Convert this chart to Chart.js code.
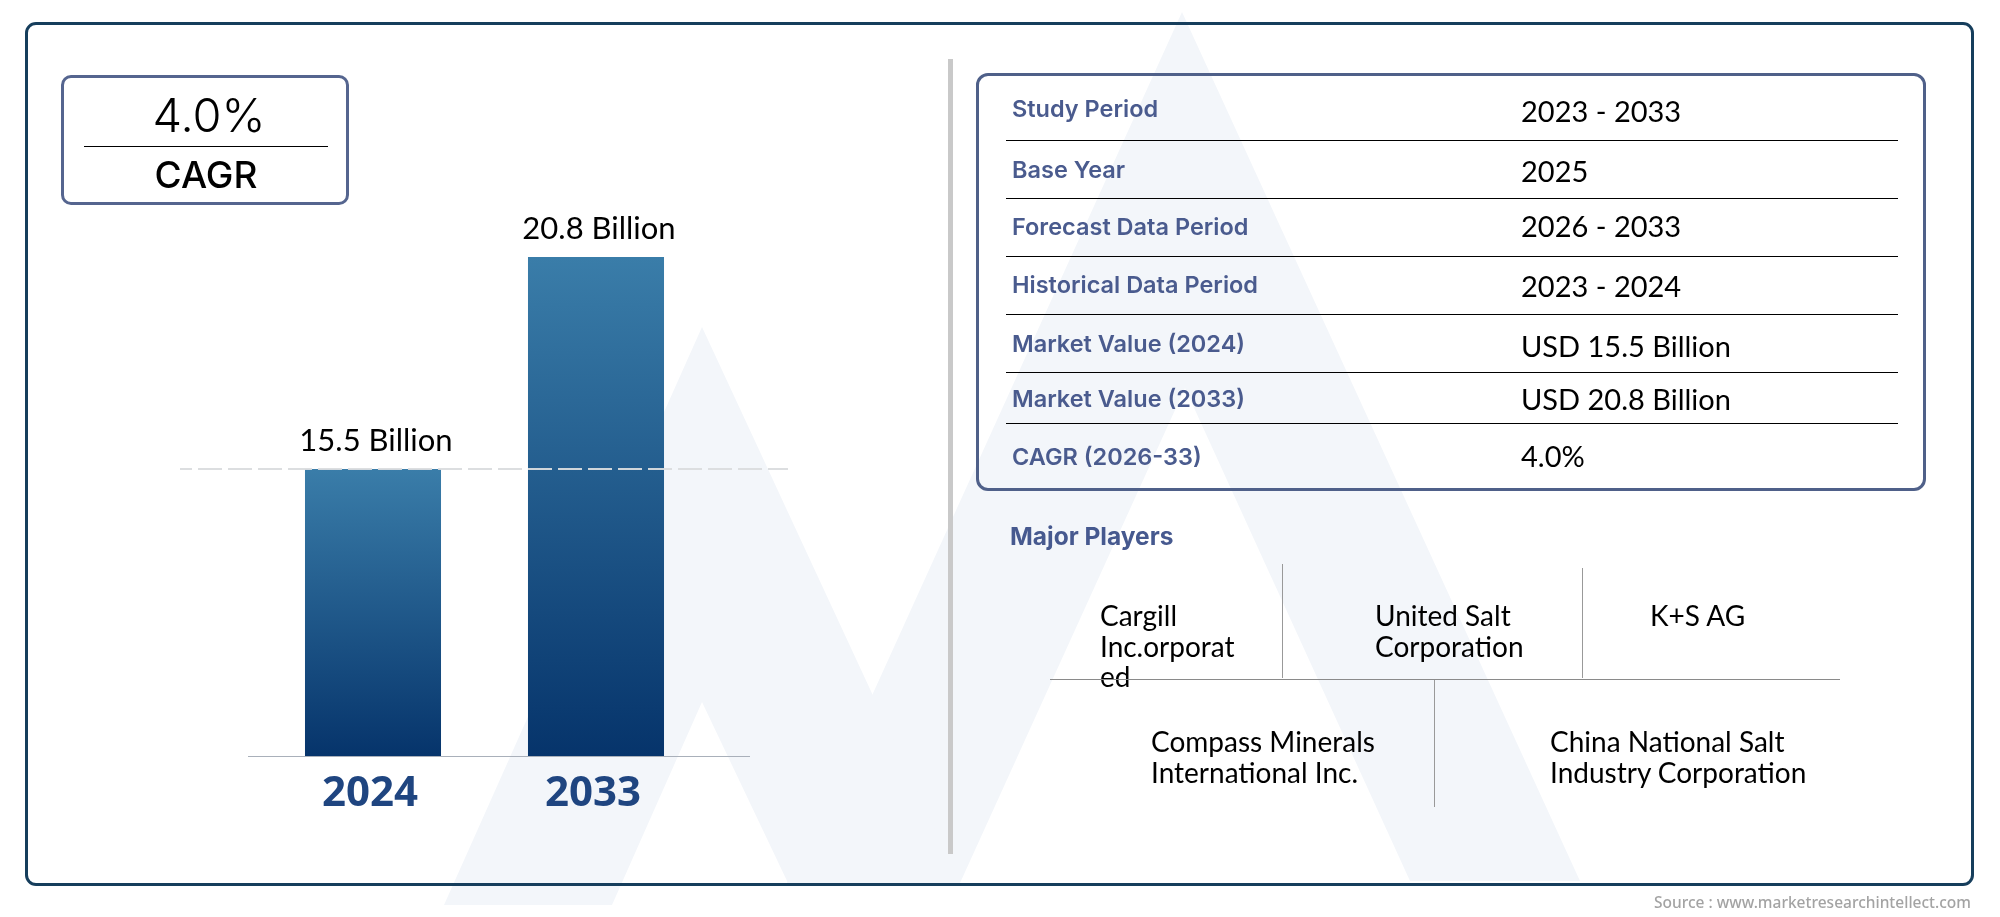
<!DOCTYPE html>
<html>
<head>
<meta charset="utf-8">
<title>Market size chart</title>
<script src="https://cdn.jsdelivr.net/npm/chart.js@4"></script>
<style>
  html,body{margin:0;padding:0;background:#fff;}
  body{position:relative;width:2000px;height:917px;overflow:hidden;font-family:Lato,sans-serif;color:#000;}
  #bg,#chart{position:absolute;left:0;top:0;}
  .frame{position:absolute;box-sizing:border-box;}
  #outer{left:25px;top:22px;width:1949px;height:864px;border:3.5px solid #163e5c;border-radius:11px;}
  #cagrBox{left:61px;top:75px;width:288px;height:130px;border:3.5px solid #55658f;border-radius:10px;}
  #tableBox{left:976px;top:73px;width:950px;height:418px;border:3.5px solid #4f6089;border-radius:12px;}
  .rule{position:absolute;}
  .t{position:absolute;white-space:nowrap;line-height:1;transform:translateY(-50%);}
  .key{font:600 23.5px Inter,sans-serif;color:#4a5b8e;}
  .val{font:400 29px Lato,sans-serif;}
  .player{font:400 28px Lato,sans-serif;}
  .head{font:700 24.5px Inter,sans-serif;color:#46598f;}
  .big{font:300 47px Inter,sans-serif;}
  .cagr{font:500 37px Inter,sans-serif;}
  #source{position:absolute;right:29px;top:902px;transform:translateY(-50%);line-height:1;white-space:nowrap;font:500 15.5px "Noto Sans",sans-serif;color:#a3a3a3;}
</style>
</head>
<body>
<svg id="bg" width="2000" height="917">
  <polygon fill="#f3f6fa" points="1182,12 1580,881 1410,881 1185,388 960,883 787,883"/>
  <polygon fill="#f3f6fa" points="702,327 960,883 788,883 702,702 612,905 444,905"/>
</svg>
<canvas id="chart" width="2000" height="917"></canvas>
<div class="frame" id="outer"></div>
<div class="frame" id="cagrBox"></div>
<div class="frame" id="tableBox"></div>
<div id="overlay"></div>
<div id="source">Source : www.marketresearchintellect.com</div>

<script>
const years = ['2024', '2033'];
const marketValues = [15.5, 20.8];
const cagrText = '4.0%';

const infoKeys = ['Study Period', 'Base Year', 'Forecast Data Period', 'Historical Data Period', 'Market Value (2024)', 'Market Value (2033)', 'CAGR (2026-33)'];
const infoValues = ['2023 - 2033', '2025', '2026 - 2033', '2023 - 2024', 'USD 15.5 Billion', 'USD 20.8 Billion', '4.0%'];
const keyY = [108, 169, 226, 284, 343, 398, 456];
const valY = [110, 170, 225, 285, 345, 398, 455];
const ruleY = [140, 198, 256, 314, 372, 423];

const players = [
  {lines: ['Cargill', 'Inc.orporat', 'ed'], x: 1100, y: 615},
  {lines: ['United Salt', 'Corporation'], x: 1375, y: 615},
  {lines: ['K+S AG'], x: 1650, y: 615},
  {lines: ['Compass Minerals', 'International Inc.'], x: 1151, y: 741},
  {lines: ['China National Salt', 'Industry Corporation'], x: 1550, y: 741}
];

// the bars in the picture are not to scale, this axis start gives the same heights
const axisMin = 8.325;
const axisMax = 22.2;

const overlay = document.getElementById('overlay');

function addText(text, x, y, cls){
  const el = document.createElement('div');
  el.className = 't ' + cls;
  el.textContent = text;
  el.style.left = x + 'px';
  el.style.top = y + 'px';
  overlay.appendChild(el);
  return el;
}

function addRule(x, y, w, h, color){
  const el = document.createElement('div');
  el.className = 'rule';
  el.style.cssText = `left:${x}px;top:${y}px;width:${w}px;height:${h}px;background:${color}`;
  overlay.appendChild(el);
}

// cagr box
const pct = addText(cagrText, 209, 114, 'big');
pct.style.transform = 'translate(-50%,-50%)';
const cagrLabel = addText('CAGR', 206, 174, 'cagr');
cagrLabel.style.transform = 'translate(-50%,-50%)';
addRule(84, 146, 244, 1, '#000');

// divider between the panels
addRule(948, 59, 5, 795, '#c9c9c9');

// study table
infoKeys.forEach((k, i) => addText(k, 1012, keyY[i], 'key'));
infoValues.forEach((v, i) => addText(v, 1521, valY[i], 'val'));
ruleY.forEach(y => addRule(1006, y, 892, 1, '#000'));

// major players
addText('Major Players', 1010, 536, 'head');
players.forEach(p => p.lines.forEach((line, i) => addText(line, p.x, p.y + i * 30.7, 'player')));
addRule(1050, 679, 790, 1, '#8a8a8a');
addRule(1282, 564, 1, 114, '#999');
addRule(1582, 568, 1, 110, '#999');
addRule(1434, 680, 1, 127, '#999');

const decorations = {
  id: 'decorations',
  afterDatasetsDraw(chart){
    const {ctx, scales} = chart;
    const base = scales.y.getPixelForValue(axisMin);
    ctx.save();
    // baseline
    ctx.strokeStyle = '#a9b0ba';
    ctx.lineWidth = 1;
    ctx.beginPath();
    ctx.moveTo(248, base + 0.5);
    ctx.lineTo(750, base + 0.5);
    ctx.stroke();
    // dashed line at the 2024 value
    const dashY = scales.y.getPixelForValue(marketValues[0]);
    ctx.strokeStyle = 'rgba(218,220,222,.95)';
    ctx.lineWidth = 2;
    ctx.setLineDash([24, 6]);
    ctx.lineDashOffset = 12;
    ctx.beginPath();
    ctx.moveTo(180, dashY);
    ctx.lineTo(788, dashY);
    ctx.stroke();
    ctx.setLineDash([]);
    // value labels
    ctx.fillStyle = '#000';
    ctx.font = '400 31px Lato, sans-serif';
    ctx.textAlign = 'center';
    ctx.textBaseline = 'middle';
    chart.getDatasetMeta(0).data.forEach((bar, i) => {
      ctx.fillText(marketValues[i] + ' Billion', bar.x + 3, bar.y - 28);
    });
    ctx.restore();
  }
};

new Chart(document.getElementById('chart'), {
  type: 'bar',
  data: {
    labels: years,
    datasets: [{
      data: marketValues,
      categoryPercentage: 1,
      barPercentage: 0.61,
      borderWidth: 0,
      backgroundColor(c){
        const {chart, dataIndex} = c;
        if(!chart.chartArea) return '#1f5a8c';
        const y = chart.scales.y;
        const g = chart.ctx.createLinearGradient(0, y.getPixelForValue(marketValues[dataIndex]), 0, y.getPixelForValue(axisMin));
        g.addColorStop(0, '#3a7da9');
        g.addColorStop(1, '#06346b');
        return g;
      }
    }]
  },
  options: {
    responsive: false,
    animation: false,
    layout: {padding: {left: 261.5, right: 1292.5, top: 201, bottom: 101}},
    plugins: {legend: {display: false}, tooltip: {enabled: false}},
    scales: {
      x: {
        afterFit(scale){ scale.height = 60; },
        grid: {display: false, drawTicks: false},
        border: {display: false},
        ticks: {
          color: '#1f4580',
          padding: 13,
          labelOffset: -3,
          font: {family: '"Noto Sans", sans-serif', size: 42, weight: 'bold'}
        }
      },
      y: {display: false, min: axisMin, max: axisMax}
    }
  },
  plugins: [decorations]
});
</script>
</body>
</html>
